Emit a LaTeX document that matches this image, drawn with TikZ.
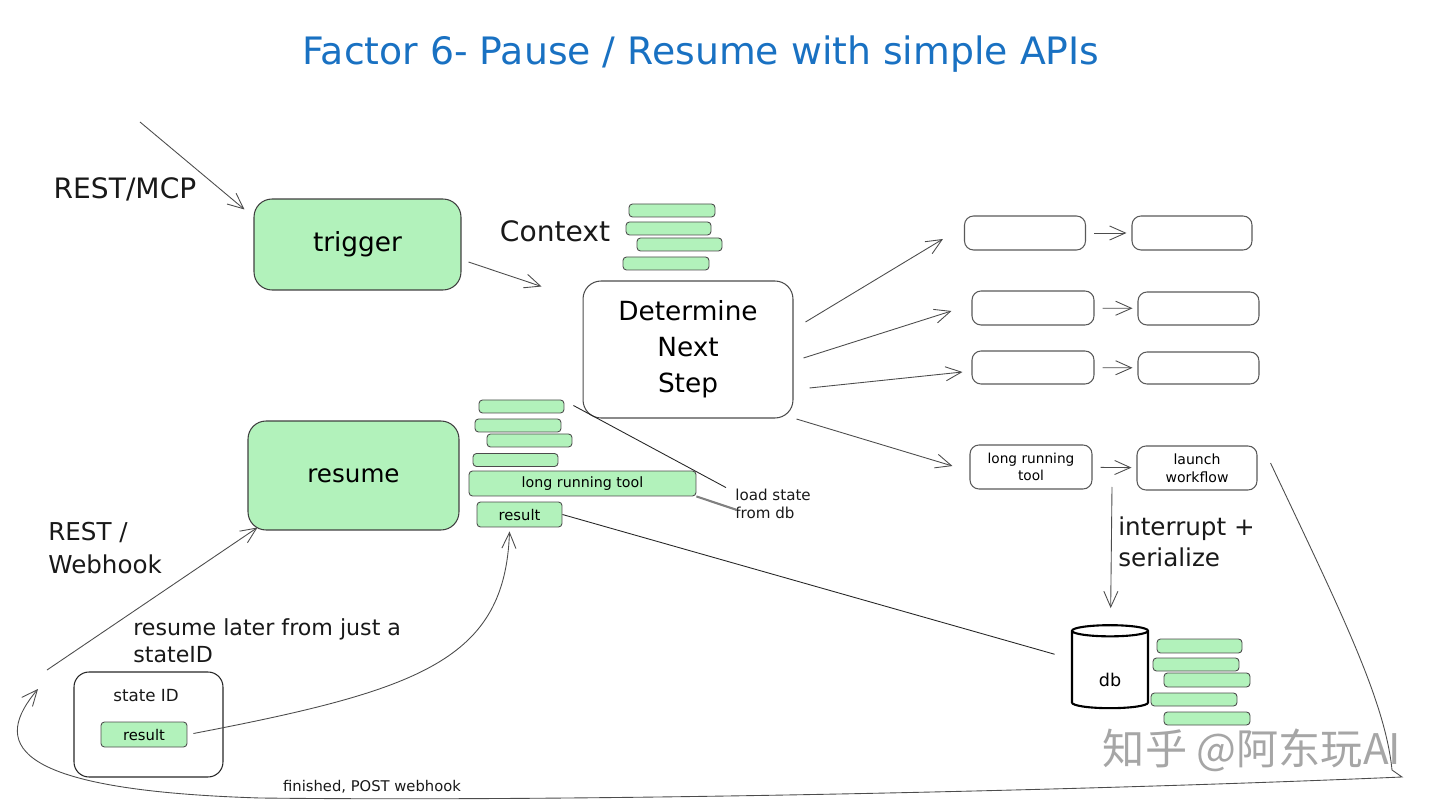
\documentclass[tikz,border=0pt]{standalone}
\usepackage{fontspec}
\setmainfont{DejaVu Sans}
\newfontfamily\cjk{Noto Sans CJK SC}
\usepackage{tikz}
\usetikzlibrary{calc, arrows.meta, shapes.geometric, positioning}
\definecolor{mint}{HTML}{B2F2BB}
\definecolor{titleblue}{HTML}{1971C2}
\tikzset{
  greenbox/.style={draw=black!75, fill=mint, rounded corners=0.36cm, line width=0.6pt, inner sep=0pt},
  plainbox/.style={draw=black!65, rounded corners=0.18cm, line width=0.6pt, inner sep=0pt, align=center},
  bar/.style={draw=black!70, fill=mint, rounded corners=0.07cm, line width=0.5pt, minimum height=0.26cm, inner sep=0pt},
  arr/.style={draw=black!70, line width=0.5pt, -{Straight Barb[length=9pt,width=8pt]}},
  lbl/.style={text=black!90, inner sep=0pt},
}

\begin{document}
\begin{tikzpicture}[x=0.02cm, y=-0.02cm]
\useasboundingbox (0,0) rectangle (1440,810);

\node[text=titleblue, font=\fontsize{21.5}{25}\selectfont] (title) at (701,54) {Factor 6- Pause / Resume with simple APIs};

% entry points
\node[greenbox, minimum width=4.14cm, minimum height=1.82cm, font=\fontsize{15}{18}\selectfont] (trigger) at (357.5,244.5) {trigger};
\node[greenbox, minimum width=4.22cm, minimum height=2.18cm, font=\fontsize{14}{18}\selectfont] (resume) at (353.5,475.5) {resume};
\node[lbl, font=\fontsize{16}{19}\selectfont] (mcp) at (125,189) {REST/MCP};
\node[lbl, font=\fontsize{14}{19}\selectfont, align=left, anchor=west] (hooklbl) at (48,548) {REST /\\Webhook};
\coordinate (mcpin) at (140,122);
\coordinate (hookin) at (47,670);
\draw[arr] (mcpin) -- ($(trigger.north west)+(-9,11)$);
\draw[arr] (hookin) -- ($(resume.south west)+(10,-3)$);

% context and the loop step
\node[lbl, font=\fontsize{16}{19}\selectfont] (ctx) at (555,231) {Context};
\foreach \n/\x/\y/\w in {1/672/210.5/1.72, 2/668.5/228.5/1.70, 3/679.5/244.5/1.70, 4/666/263.5/1.72}
  \node[bar, minimum width=\w cm] (ctx\n) at (\x,\y) {};
\node[plainbox, draw=black!70, rounded corners=0.36cm, minimum width=4.2cm, minimum height=2.74cm,
      font=\fontsize{15}{20.5}\selectfont] (det) at (688,349.5) {Determine\\Next\\Step};
\draw[arr] ($(trigger.east)+(7,17.5)$) -- ($(det.north west)+(-41,6)$);

% stored thread
\foreach \n/\x/\y/\w in {1/521.5/406.5/1.70, 2/518/425.5/1.72, 3/529.5/440.5/1.70, 4/515.5/460/1.70}
  \node[bar, minimum width=\w cm] (st\n) at (\x,\y) {};
\node[bar, minimum width=4.54cm, minimum height=0.5cm, font=\fontsize{8.1}{10}\selectfont] (lrt) at (582.5,483.5) {long running tool};
\node[bar, minimum width=1.7cm, minimum height=0.5cm, font=\fontsize{8.4}{10}\selectfont] (res) at (519.5,514.5) {result};
\node[lbl, font=\fontsize{8.6}{10.5}\selectfont, align=left, anchor=west] (ls) at (735,504) {load state\\from db};
\draw[line width=0.5pt, black!85] ($(st1.east)+(9,-1)$) -- ($(ls.north west)+(-9,-1)$);
\draw[line width=1.2pt, black!50] (lrt.south east) -- ($(ls.west)+(2,6)$);

% next steps
\node[plainbox, minimum width=2.42cm, minimum height=0.68cm] (a1) at (1025,233) {};
\node[plainbox, minimum width=2.40cm, minimum height=0.68cm] (a2) at (1192,233) {};
\node[plainbox, minimum width=2.44cm, minimum height=0.68cm] (b1) at (1033,308) {};
\node[plainbox, minimum width=2.42cm, minimum height=0.66cm] (b2) at (1198.5,308.5) {};
\node[plainbox, minimum width=2.44cm, minimum height=0.66cm] (c1) at (1033,367.5) {};
\node[plainbox, minimum width=2.42cm, minimum height=0.64cm] (c2) at (1198.5,368) {};
\node[plainbox, minimum width=2.44cm, minimum height=0.88cm, font=\fontsize{7.8}{10}\selectfont] (d1) at (1031,467) {long running\\tool};
\node[plainbox, minimum width=2.40cm, minimum height=0.88cm, font=\fontsize{8}{10}\selectfont] (d2) at (1197,468) {launch\\workflow};
\foreach \p/\q in {a1/a2, b1/b2, c1/c2, d1/d2}
  \draw[arr, shorten <=0.16cm, shorten >=0.1cm] (\p) -- (\q);
\draw[arr] ($(det.east)+(12,-27.5)$) -- ($(a1.west)+(-21,6)$);
\draw[arr] ($(det.east)+(10,8.5)$) -- ($(b1.west)+(-20,3)$);
\draw[arr] ($(det.east)+(16,38.5)$) -- ($(c1.west)+(-9,4.5)$);
\draw[arr] ($(det.south east)+(3,0.5)$) -- ($(d1.west)+(-17,-1)$);

% db
\node[cylinder, shape border rotate=90, draw=black, line width=1.2pt, aspect=0.5, minimum width=1.52cm,
      minimum height=1.66cm, inner sep=0pt, text height=0.68cm, text depth=0pt,
      font=\fontsize{10}{12}\selectfont] (db) at (1110,670) {db};
\foreach \n/\x/\y/\w/\h in {1/1199.5/646/1.70/0.28, 2/1196/664.5/1.72/0.26, 3/1207/680/1.72/0.28, 4/1194/699.5/1.72/0.26, 5/1207/718.5/1.72/0.26}
  \node[bar, minimum width=\w cm, minimum height=\h cm] (dbs\n) at (\x,\y) {};
\coordinate (intr) at (1112,487);
\draw[arr, shorten >=0.32cm] (intr) -- (db);
\node[lbl, font=\fontsize{14}{18}\selectfont, align=left, anchor=west] (ser) at (1118,542) {interrupt +\\serialize};
\draw[line width=0.5pt, black!85, shorten >=0.34cm] (res.east) -- (db);

% state id
\node[plainbox, draw=black!85, rounded corners=0.3cm, minimum width=2.98cm, minimum height=2.1cm] (state) at (148.5,724.5) {};
\node[lbl, font=\fontsize{9.5}{11}\selectfont] (stateid) at (146,696) {state ID};
\node[bar, minimum width=1.72cm, minimum height=0.5cm, font=\fontsize{8.4}{10}\selectfont] (sres) at (144,734.5) {result};
\node[lbl, font=\fontsize{12.6}{15.3}\selectfont, align=left, anchor=west] (later) at (133,641) {resume later from just a\\stateID};
\draw[arr] ($(sres.east)+(6,-1)$) .. controls (420,690) and (505,660) .. ($(res.south)+(-10,4)$);

% finished loop
\coordinate (loopend) at (38,689);
\draw[arr] ($(d2.east)+(13,-5)$) .. controls (1340,610) and (1385,700) .. (1392,770) -- (1402,777)
  .. controls (1100,790) and (600,802) .. (260,798) .. controls (0,790) and (-5,740) .. (loopend);
\node[lbl, font=\fontsize{8.4}{10}\selectfont] (fin) at (372,787) {finished, POST webhook};

\node[text=black!35, font=\cjk\fontsize{24}{28}\selectfont] (wm) at (1252,750) {知乎 @阿东玩AI};
\end{tikzpicture}
\end{document}
